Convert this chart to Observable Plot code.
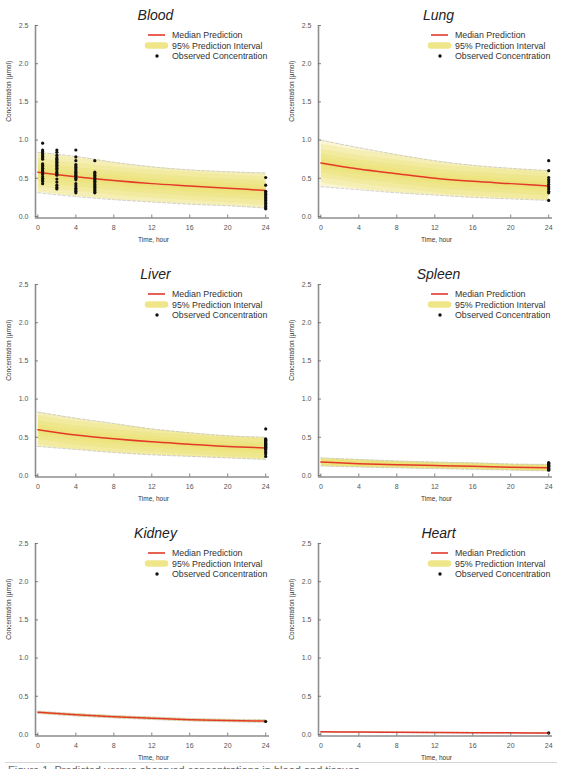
<!DOCTYPE html>
<html>
<head>
<meta charset="utf-8">
<script src="https://cdn.jsdelivr.net/npm/d3@7"></script>
<script src="https://cdn.jsdelivr.net/npm/@observablehq/plot@0.6"></script>
<style>
  html, body { margin: 0; padding: 0; background: #fff; }
  #page { position: relative; width: 565px; height: 769px; overflow: hidden; font-family: "Liberation Sans", Arial, sans-serif; }
  .panel { position: absolute; }
  #rule { position: absolute; left: 5px; width: 552px; top: 762px; height: 0; border-top: 1px solid #d6d6d6; }
  #caption { position: absolute; left: 8px; top: 764px; font-size: 11px; color: #666; white-space: nowrap; }
</style>
</head>
<body>
<div id="page">
  <div id="rule"></div>
  <div id="caption">Figure 1. Predicted versus observed concentrations in blood and tissues.</div>
</div>
<script>
// ---------- data ----------
const organs = ["Blood", "Lung", "Liver", "Spleen", "Kidney", "Heart"];
const predTime = [0, 4, 8, 12, 16, 20, 24];
const xTicks = [0, 4, 8, 12, 16, 20, 24];
const yTicks = [0, 0.5, 1.0, 1.5, 2.0, 2.5];
const xDomain = [-0.25, 24.4];
const yDomain = [-0.02, 2.5];

const bloodMedian = [0.58, 0.52, 0.47, 0.43, 0.40, 0.37, 0.34];
const bloodUpper  = [0.84, 0.785, 0.71, 0.65, 0.61, 0.585, 0.57];
const bloodLower  = [0.31, 0.26, 0.22, 0.19, 0.16, 0.14, 0.11];
const bloodObs = [
  [0.5, [0.96, 0.87, 0.85, 0.83, 0.81, 0.79, 0.77, 0.75, 0.69, 0.67, 0.65, 0.63, 0.61, 0.59, 0.57, 0.55, 0.52, 0.50, 0.48, 0.46, 0.43]],
  [2,   [0.87, 0.84, 0.80, 0.77, 0.75, 0.73, 0.71, 0.69, 0.67, 0.65, 0.63, 0.61, 0.58, 0.56, 0.54, 0.49, 0.45, 0.41, 0.38, 0.36]],
  [4,   [0.87, 0.78, 0.73, 0.68, 0.66, 0.64, 0.62, 0.60, 0.58, 0.56, 0.54, 0.52, 0.50, 0.48, 0.43, 0.40, 0.37, 0.35, 0.33, 0.31]],
  [6,   [0.73, 0.58, 0.56, 0.54, 0.52, 0.50, 0.48, 0.46, 0.44, 0.42, 0.40, 0.38, 0.36, 0.34, 0.32, 0.31]],
  [24,  [0.51, 0.41, 0.33, 0.31, 0.29, 0.27, 0.25, 0.23, 0.21, 0.19, 0.17, 0.15, 0.13, 0.11, 0.10]]
];

const lungMedian = [0.70, 0.62, 0.56, 0.50, 0.46, 0.43, 0.40];
const lungUpper  = [1.00, 0.90, 0.81, 0.73, 0.67, 0.63, 0.60];
const lungLower  = [0.39, 0.35, 0.31, 0.28, 0.25, 0.23, 0.21];
const lungObs = [[24, [0.73, 0.60, 0.51, 0.48, 0.45, 0.42, 0.39, 0.36, 0.33, 0.31, 0.21]]];

const liverMedian = [0.60, 0.53, 0.48, 0.44, 0.41, 0.38, 0.36];
const liverUpper  = [0.83, 0.75, 0.68, 0.61, 0.56, 0.52, 0.50];
const liverLower  = [0.38, 0.34, 0.30, 0.27, 0.25, 0.23, 0.21];
const liverObs = [[24, [0.61, 0.48, 0.47, 0.46, 0.45, 0.44, 0.43, 0.42, 0.41, 0.40, 0.39, 0.38, 0.37, 0.36, 0.35, 0.34, 0.32, 0.30, 0.28, 0.25]]];

const spleenMedian = [0.175, 0.155, 0.14, 0.13, 0.12, 0.108, 0.10];
const spleenUpper  = [0.23, 0.21, 0.19, 0.175, 0.165, 0.15, 0.145];
const spleenLower  = [0.125, 0.11, 0.10, 0.09, 0.08, 0.07, 0.06];
const spleenObs = [[24, [0.17, 0.16, 0.15, 0.14, 0.13, 0.12, 0.11, 0.10, 0.09, 0.08, 0.07]]];

const kidneyMedian = [0.29, 0.258, 0.232, 0.212, 0.194, 0.182, 0.175];
const kidneyUpper  = [0.305, 0.274, 0.248, 0.228, 0.21, 0.198, 0.192];
const kidneyLower  = [0.275, 0.242, 0.216, 0.196, 0.178, 0.166, 0.158];
const kidneyObs = [[24, [0.17]]];

const heartMedian = [0.035, 0.031, 0.028, 0.025, 0.023, 0.021, 0.02];
const heartUpper  = [0.040, 0.036, 0.033, 0.030, 0.028, 0.026, 0.025];
const heartLower  = [0.030, 0.026, 0.023, 0.020, 0.018, 0.016, 0.015];
const heartObs = [[24, [0.02]]];

const legendLabels = ["Median Prediction", "95% Prediction Interval", "Observed Concentration"];

const series = [
  [bloodMedian, bloodUpper, bloodLower, bloodObs],
  [lungMedian, lungUpper, lungLower, lungObs],
  [liverMedian, liverUpper, liverLower, liverObs],
  [spleenMedian, spleenUpper, spleenLower, spleenObs],
  [kidneyMedian, kidneyUpper, kidneyLower, kidneyObs],
  [heartMedian, heartUpper, heartLower, heartObs]
];

// ---------- style ----------
const FONT = '"Liberation Sans", Arial, Helvetica, sans-serif';
const RED = "#e3392a";
const BAND = "#faf6d4";
const GLOW = "#ebdf66";
const AXIS = "#8e8e8e";
const PW = 282, PH = 259;
const glowWidths = [38, 28, 19, 11, 5];

function panel(idx) {
  const name = organs[idx];
  const [med, up, lo, obs] = series[idx];
  const curve = predTime.map((t, i) => ({t, med: med[i], up: up[i], lo: lo[i]}));
  const pts = obs.flatMap(([t, vals]) => vals.map(v => ({t, v})));
  const cv = "monotone-x";
  const plot = Plot.plot({
    width: PW, height: PH,
    marginLeft: 35, marginRight: 13, marginTop: 25, marginBottom: 41.5,
    x: {domain: xDomain},
    y: {domain: yDomain},
    style: {fontFamily: FONT, background: "transparent", color: "#555", overflow: "visible"},
    marks: [
      Plot.areaY(curve, {x: "t", y1: "lo", y2: "up", fill: BAND, curve: cv}),
      ...glowWidths.map(w => Plot.line(curve, {x: "t", y: "med", stroke: GLOW, strokeWidth: w, strokeOpacity: 0.28, curve: cv})),
      Plot.line(curve, {x: "t", y: "up", stroke: "#c4c4c4", strokeWidth: 0.8, strokeDasharray: "3,2", curve: cv}),
      Plot.line(curve, {x: "t", y: "lo", stroke: "#c4c4c4", strokeWidth: 0.8, strokeDasharray: "3,2", curve: cv}),
      Plot.line(curve, {x: "t", y: "med", stroke: RED, strokeWidth: 1.5, curve: cv}),
      Plot.dot(pts, {x: "t", y: "v", r: 1.6, fill: "#111"}),
      Plot.ruleX([xDomain[0]], {stroke: AXIS, strokeWidth: 1.6}),
      Plot.ruleY([yDomain[0]], {stroke: AXIS, strokeWidth: 1.6}),
      Plot.ruleX(xTicks, {x: d => d, y1: yDomain[0], y2: yDomain[0], insetTop: -3, stroke: "#666", strokeWidth: 0.8}),
      Plot.ruleY(yTicks, {y: d => d, x1: xDomain[0], x2: xDomain[0], insetRight: -3, stroke: "#666", strokeWidth: 0.8}),
      Plot.axisX({ticks: xTicks, tickSize: 0, tickPadding: 7, fontSize: 7, label: null, tickFormat: d => String(d)}),
      Plot.axisY({ticks: yTicks, tickSize: 0, tickPadding: 7, fontSize: 7, label: null, tickFormat: d3.format(".1f")}),
      Plot.text([name], {text: d => d, frameAnchor: "top", dx: 3, dy: -15, fontSize: 14, fontStyle: "italic", fill: "#222"}),
      Plot.text(["Time, hour"], {text: d => d, frameAnchor: "bottom", dx: 1, dy: 23.5, fontSize: 6.5, fill: "#333"}),
      Plot.text(["Concentration (\u00b5mol)"], {text: d => d, frameAnchor: "left", dx: -27, rotate: -90, fontSize: 6.5, fill: "#333"})
    ]
  });

  const svg = d3.select(plot);
  // clip the soft central glow of the interval to the interval band itself
  try {
    const areaG = plot.querySelector('g[aria-label="area"]');
    const bandPath = areaG ? areaG.querySelector("path") : null;
    if (bandPath) {
      const cid = "clip-" + idx;
      svg.insert("defs", ":first-child").append("clipPath").attr("id", cid)
        .append("path").attr("d", bandPath.getAttribute("d"));
      const lineGs = plot.querySelectorAll('g[aria-label="line"]');
      for (let k = 0; k < glowWidths.length && k < lineGs.length; k++) {
        lineGs[k].setAttribute("clip-path", `url(#${cid})`);
      }
    }
  } catch (e) { console.log(e); }

  // legend
  const lg = svg.append("g").attr("font-family", FONT).attr("font-size", 8.8).attr("fill", "#333").attr("text-anchor", "start");
  lg.append("line").attr("x1", 148).attr("x2", 165).attr("y1", 35).attr("y2", 35).attr("stroke", RED).attr("stroke-width", 1.6);
  lg.append("line").attr("x1", 148).attr("x2", 165).attr("y1", 45.5).attr("y2", 45.5).attr("stroke", "#efe68a").attr("stroke-width", 6.5).attr("stroke-linecap", "round");
  lg.append("circle").attr("cx", 157).attr("cy", 56).attr("r", 1.7).attr("fill", "#111");
  legendLabels.forEach((t, i) => {
    lg.append("text").attr("x", 172).attr("y", [35, 45.5, 56][i]).attr("dy", "0.35em").attr("text-anchor", "start").text(t);
  });

  const div = document.createElement("div");
  div.className = "panel";
  div.style.left = (idx % 2) * 283 + "px";
  div.style.top = Math.floor(idx / 2) * PH + "px";
  div.appendChild(plot);
  document.getElementById("page").appendChild(div);
}

organs.forEach((_, i) => panel(i));
</script>
</body>
</html>
